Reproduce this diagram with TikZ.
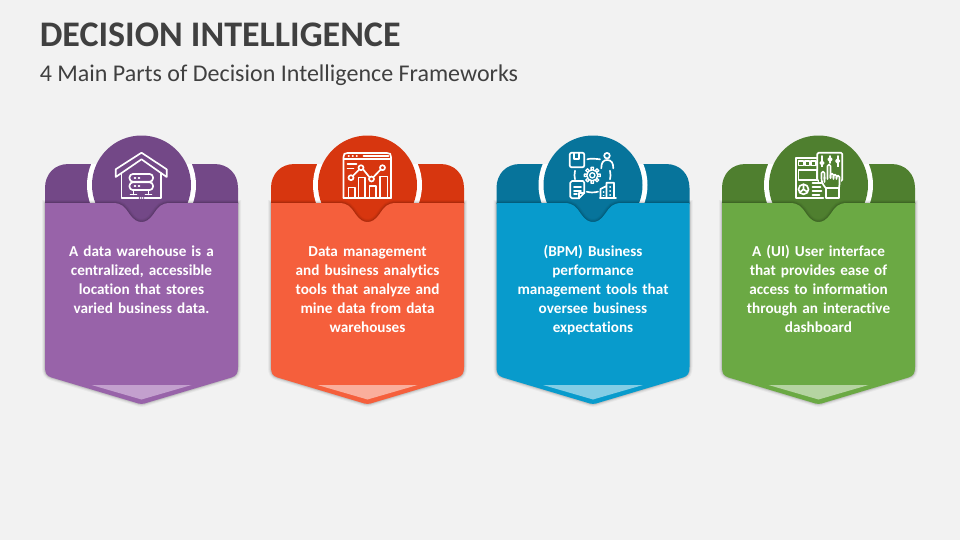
\documentclass[tikz,border=0pt]{standalone}
\usepackage{fontspec}
\setmainfont{Carlito}
\newfontfamily\cardfont[WordSpace=0.8,Ligatures=NoCommon]{Carlito}
\usetikzlibrary{calc}
\definecolor{bg}{HTML}{F2F2F2}
\definecolor{ink}{HTML}{404040}
\definecolor{purD}{HTML}{734887}\definecolor{purL}{HTML}{9863A9}\definecolor{purP}{HTML}{C3A0CE}
\definecolor{oraD}{HTML}{D7360F}\definecolor{oraL}{HTML}{F55F3C}\definecolor{oraP}{HTML}{FAAE9C}
\definecolor{bluD}{HTML}{07749B}\definecolor{bluL}{HTML}{089BCC}\definecolor{bluP}{HTML}{83CDE5}
\definecolor{griD}{HTML}{4F7F2F}\definecolor{griL}{HTML}{6BA944}\definecolor{griP}{HTML}{B5D4A1}
\tikzset{
  icon/.style={draw=white,line width=1.25pt,line join=round,line cap=round},
  cardtext/.style={text=white,align=center,font=\cardfont\fontsize{11.4pt}{14.25pt}\selectfont\bfseries,text width=125pt,inner sep=0pt,anchor=base},
}
% body outline, local x (centre = 0), y in image pixels
\newcommand\bodypath{(-96.5,203) -- (-29,203) .. controls (-19,203) and (-17,207) .. (-12,214) .. controls (-8,220) and (-4,222) .. (0,222) .. controls (4,222) and (8,220) .. (12,214) .. controls (17,207) and (19,203) .. (29,203) -- (96.5,203) -- (96.5,367) .. controls (96.5,373) and (95,376) .. (90,377.5) -- (3,403.5) .. controls (1,404) and (-1,404) .. (-3,403.5) -- (-90,377.5) .. controls (-95,376) and (-96.5,373) .. (-96.5,367) -- cycle}
\newcommand\card[5]{% cx, dark, light, pale, icon
\begin{scope}[shift={(#1,0)}]
  \fill[#2] (-96.5,204) -- (-96.5,188) .. controls (-96.5,174) and (-87,164) .. (-73,164) -- (73,164) .. controls (87,164) and (96.5,174) .. (96.5,188) -- (96.5,204) -- cycle;
  \begin{scope}
    \clip (-60,164) rectangle (60,204);
    \fill[white] (0,185) circle (54.5);
  \end{scope}
  \fill[#2] (0,185) circle (49.5);
  \foreach \o/\w in {0.04/6,0.05/4,0.06/2.5,0.08/1.2}{\draw[black,opacity=\o,line width=\w*0.75pt] \bodypath;}
  \fill[#3] \bodypath;
  \fill[#4] (-50,385) -- (50,385) -- (0,399.5) -- cycle;
  \begin{scope}[shift={(0,185)},icon]
    #5
  \end{scope}
\end{scope}}
\newcommand\iconhouse{
  \draw (-25.8,-8) -- (-25.8,-15.7) -- (0,-32.3) -- (25.2,-15.7) -- (25.2,-8) -- (0,-25.7) -- cycle;
  \draw (-20,-12) -- (-20,13) -- (-3,13);
  \draw (19.5,-12) -- (19.5,13) -- (3,13);
  \draw[rounded corners=2.5] (-12,-11) rectangle (11.5,-3.3);
  \draw[rounded corners=2.5] (-12,-2.7) rectangle (11.5,5);
  \draw (-8,5) -- (-8,9.5) (-11,9.5) -- (-5,9.5) (7,5) -- (7,9.5) (4,9.5) -- (10,9.5);
  \draw (-7,-7) -- (-6,-7) (-3,-7) -- (-2,-7) (-7,1) -- (-6,1) (-3,1) -- (-2,1);
  \draw (-1,13) -- (-0.8,13) (1,13) -- (1.2,13);
}
\newcommand\iconchart{
  \draw (-24,13) -- (-24,-28) .. controls (-24,-31) and (-23,-32) .. (-20,-32) -- (19.5,-32) .. controls (22.5,-32) and (23.5,-31) .. (23.5,-28) -- (23.5,13);
  \draw (-24,13) -- (23.5,13) (-24,-25.7) -- (23.5,-25.7);
  \draw (-19,-29) -- (-18.5,-29) (-15,-29) -- (-14.5,-29) (-11,-29) -- (-10.5,-29) (-4,-29) -- (21,-29);
  \draw (-20,-21) -- (-11,-21) (-20,-16.5) -- (-14,-16.5);
  \draw (-19,13) -- (-19,2.5) -- (-12.5,2.5) -- (-12.5,13);
  \draw (-9,13) -- (-9,-7.5) -- (-2.5,-7.5) -- (-2.5,13);
  \draw (2,13) -- (2,1) -- (8.5,1) -- (8.5,13);
  \draw (12.5,13) -- (12.5,-8.5) -- (20,-8.5) -- (20,13);
  \draw (-16.5,-7.3) circle (2.5) (-6.5,-17.3) circle (2.5) (4,-6) circle (2.5) (15,-17.3) circle (2.5);
  \draw (-14.7,-9.1) -- (-8.3,-15.5) (-4.5,-15.8) -- (2,-7.8) (5.8,-7.8) -- (13.2,-15.5);
}
\newcommand\iconbpm{
  \draw[rounded corners=1.5] (-23.3,-32.3) rectangle (-8.7,-17.7);
  \draw (-18.7,-32.3) -- (-18.7,-25.7) -- (-14,-25.7) -- (-14,-32.3);
  \draw (14,-29.3) circle (2.8);
  \draw (8.3,-16.7) .. controls (8.3,-22) and (10,-25) .. (14,-25) .. controls (18.5,-25) and (20.3,-22) .. (20.3,-16.7);
  \foreach \a in {0,45,...,315}{\draw[line width=1pt] ($(-0.7,-9.7)+(\a-12:5.5)$) -- ($(-0.7,-9.7)+(\a-9:8)$) -- ($(-0.7,-9.7)+(\a+9:8)$) -- ($(-0.7,-9.7)+(\a+12:5.5)$);}
  \draw[line width=1pt] (-0.7,-9.7) circle (5.5);
  \draw[line width=1pt] (-0.7,-9.7) circle (2.6);
  \draw (-22.7,-2.3) -- (-22.7,11.7) .. controls (-22.7,12.7) and (-22,13.3) .. (-21,13.3) -- (-14,13.3) -- (-8.7,8) -- (-8.7,-2.3) .. controls (-8.7,-3.3) and (-9.5,-4) .. (-10,-4) -- (-21,-4) .. controls (-22,-4) and (-22.7,-3.3) .. (-22.7,-2.3);
  \draw (-14,13.3) -- (-14,8) -- (-8.7,8);
  \draw (-19,2.3) -- (-12,2.3) (-19,5.7) -- (-12,5.7) (-19,9) -- (-16,9);
  \draw (7,13.3) -- (23,13.3);
  \draw (7.5,13.3) -- (7.5,4) -- (13.5,1) (13.5,13.3) -- (13.5,-2.3) -- (21,-2.3) -- (21,13.3) ;
  \draw (17,2) -- (17.3,2) (17,6) -- (17.3,6) (17,10) -- (17.3,10) (10.5,7) -- (10.7,7) (10.5,10.5) -- (10.7,10.5);
  \draw (-5.7,-25.7) .. controls (-3,-26.5) and (0,-26.5) .. (7,-25.7);
  \draw (-18,-14.3) .. controls (-18.7,-11) and (-18.7,-8) .. (-18,-5.7);
  \draw (17,-14.3) .. controls (17.7,-11) and (17.7,-8) .. (17,-5.7);
  \draw (-6.3,6.7) .. controls (-3,7.7) and (1,7.7) .. (5,6.7);
}
\newcommand\icondash[1]{
  \draw (-1.2,-26.7) -- (-22.8,-26.7) -- (-22.8,13.3) -- (4.8,13.3) ;
  \draw (-20,-24) rectangle (-15,-19.5);
  \draw (-13.5,-24) rectangle (-9,-19.5);
  \draw (-7.5,-24) rectangle (-2.5,-19.5);
  \draw (-20,-15) rectangle (-1.8,-5);
  \draw (-15,4.3) circle (5);
  \draw (-15,4.3) -- (-15,-0.7) (-15,4.3) -- (-11,7) (-15,4.3) -- (-19,7.5);
  \draw (-6,-1.7) -- (3,-1.7) (-6,2.3) -- (2,2.3) (-6,6) -- (3,6) (-6,10) -- (1,10);
  \draw[rounded corners=1] (4,-4) -- (-1.2,-4) -- (-1.2,-32.3) -- (23.8,-32.3) -- (23.8,-4) -- (21,-4);
  \draw (3.5,-29) -- (3.5,-4.5) (11.5,-29) -- (11.5,-22) (19.2,-29) -- (19.2,-14);
  \draw (3.5,-22) circle (1.8) (11.5,-25.7) circle (1.8) (19.2,-24) circle (1.8);
  \fill[#1] (0,-18) rectangle (22,-3);
  \draw (7.2,3) -- (7.2,13.3) -- (20.5,13.3) -- (20.5,3) -- cycle;
  \draw (7.2,3) .. controls (4,-1) and (3,-3) .. (3,-7) -- (3,-12) .. controls (3,-14) and (6,-14) .. (6,-12) -- (6,-6);
  \draw (6,-3) -- (6,-8) (9,-6) -- (9,-19) .. controls (9,-21) and (12,-21) .. (12,-19) -- (12,-7);
  \draw (12,-7) -- (12,-10) .. controls (12,-12) and (15,-12) .. (15,-10) -- (15,-6);
  \draw (15,-7) -- (15,-9) .. controls (15,-11) and (18,-11) .. (18,-9) -- (18,-6);
  \draw (18,-7) -- (18,-8) .. controls (18,-10) and (21,-10) .. (21,-8) -- (21,-1) -- (20.5,3);
}
\begin{document}
\begin{tikzpicture}[x=0.75pt,y=-0.75pt]
  \useasboundingbox (0,0) rectangle (960,540);
  \fill[bg] (0,0) rectangle (960,540);
  \node[anchor=base west,inner sep=0pt,text=ink,font=\fontsize{27pt}{32pt}\selectfont\bfseries] (title) at (39.5,46) {DECISION INTELLIGENCE};
  \node[anchor=base west,inner sep=0pt,text=ink,font=\fontsize{18pt}{22pt}\selectfont] (subtitle) at (39.5,81) {4 Main Parts of Decision Intelligence Frameworks};
  \card{141.5}{purD}{purL}{purP}{\iconhouse}
  \card{367.5}{oraD}{oraL}{oraP}{\iconchart}
  \card{593}{bluD}{bluL}{bluP}{\iconbpm}
  \card{818.5}{griD}{griL}{griP}{\icondash{griD}}
  \node[cardtext] (t1) at (141.5,256) {A data warehouse is a\\centralized, accessible\\location that stores\\varied business data.};
  \node[cardtext] (t2) at (367.5,256) {Data management\\and business analytics\\tools that analyze and\\mine data from data\\warehouses};
  \node[cardtext] (t3) at (593,256) {(BPM) Business\\performance\\management tools that\\oversee business\\expectations};
  \node[cardtext] (t4) at (818.5,256) {A (UI) User interface\\that provides ease of\\access to information\\through an interactive\\dashboard};
\end{tikzpicture}
\end{document}
